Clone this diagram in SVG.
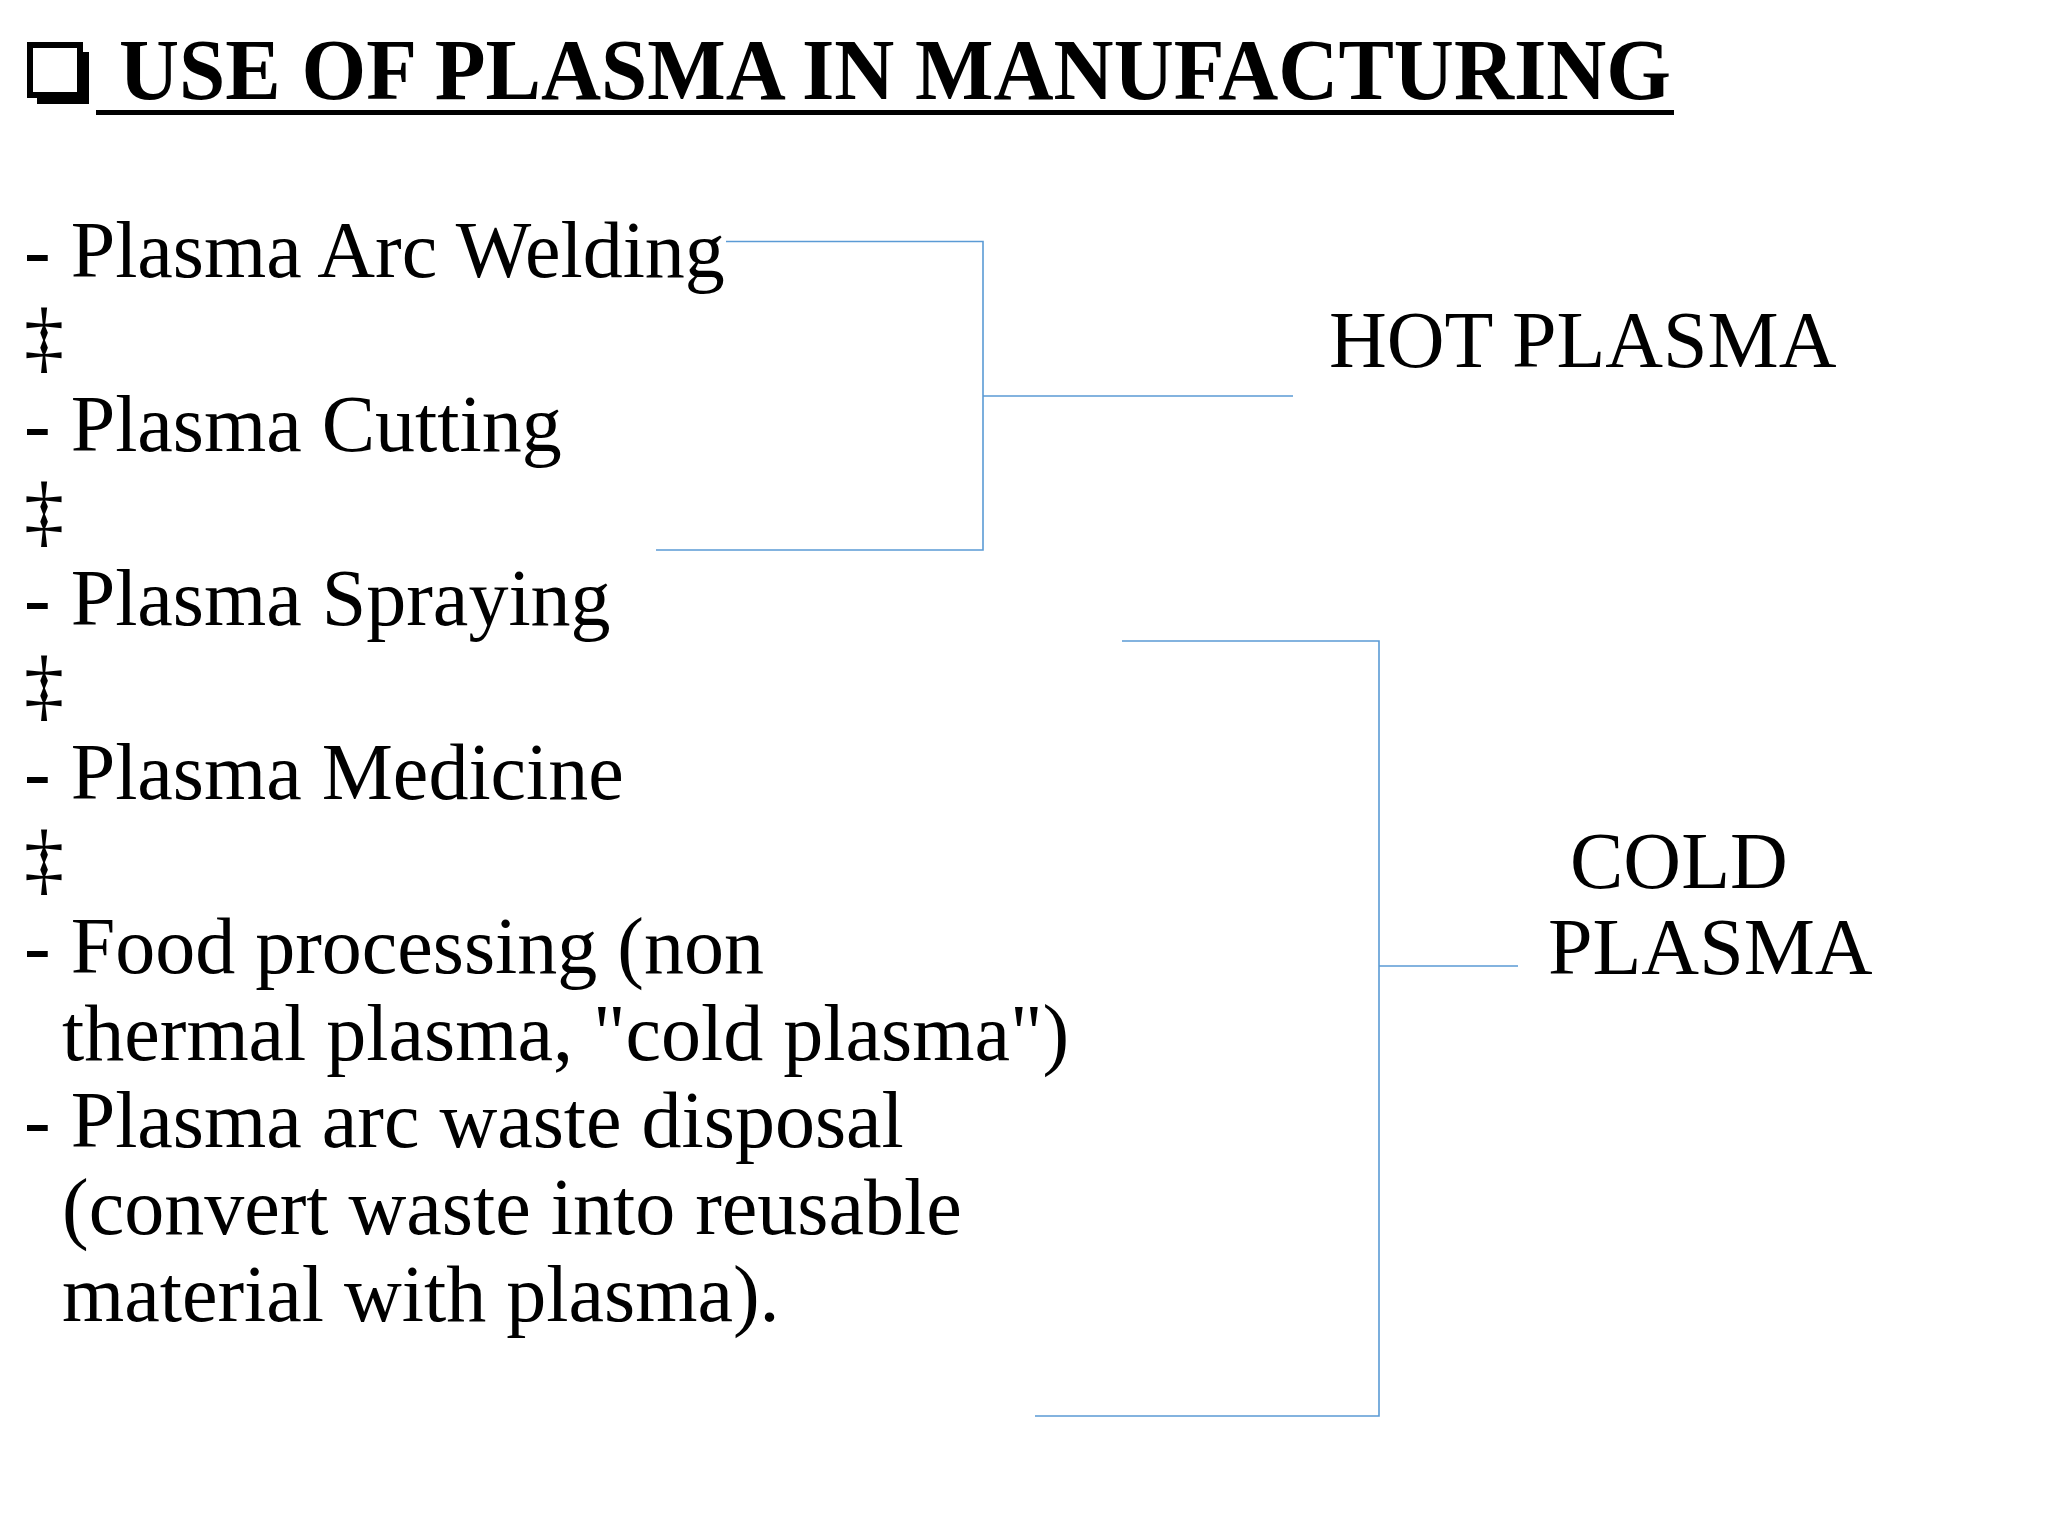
<svg xmlns="http://www.w3.org/2000/svg" width="2048" height="1536" viewBox="0 0 2048 1536">
<style>
.t{font-family:"Liberation Serif","Times New Roman",serif;font-size:80px;fill:#000}
.c{fill:none;stroke:#5b9bd5;stroke-width:1.6}
</style>
<rect width="2048" height="1536" fill="#fff"/>
<g id="title">
<rect x="30" y="45" width="50" height="50" fill="none" stroke="#000" stroke-width="6"/>
<path d="M86 52 V101 H37" fill="none" stroke="#000" stroke-width="6"/>
<text x="119" y="99" font-family="Liberation Serif,serif" font-weight="bold" font-size="86" textLength="1552" lengthAdjust="spacingAndGlyphs">USE OF PLASMA IN MANUFACTURING</text>
<rect x="96" y="110" width="1578" height="5" fill="#000"/>
</g>
<g id="list" class="t">
<text x="24" y="277" class="t">- Plasma Arc Welding</text>
<text x="24" y="364" class="t">‡</text>
<text x="24" y="451" class="t">- Plasma Cutting</text>
<text x="24" y="538" class="t">‡</text>
<text x="24" y="625" class="t">- Plasma Spraying</text>
<text x="24" y="712" class="t">‡</text>
<text x="24" y="799" class="t">- Plasma Medicine</text>
<text x="24" y="886" class="t">‡</text>
<text x="24" y="973" class="t">- Food processing (non</text>
<text x="62" y="1060" class="t">thermal plasma, "cold plasma")</text>
<text x="24" y="1147" class="t">- Plasma arc waste disposal</text>
<text x="62" y="1234" class="t">(convert waste into reusable</text>
<text x="62" y="1321" class="t">material with plasma).</text>
</g>
<g id="hot"><text x="1329" y="367" class="t">HOT PLASMA</text></g>
<g id="cold"><text x="1570" y="888" class="t">COLD</text><text x="1548" y="974" class="t">PLASMA</text></g>
<g id="connectors">
<path class="c" d="M726 241.5 H983 V550 H656 M983 396 H1293"/>
<path class="c" d="M1122 641 H1379 V1416 H1035 M1379 966 H1518"/>
</g>
</svg>
